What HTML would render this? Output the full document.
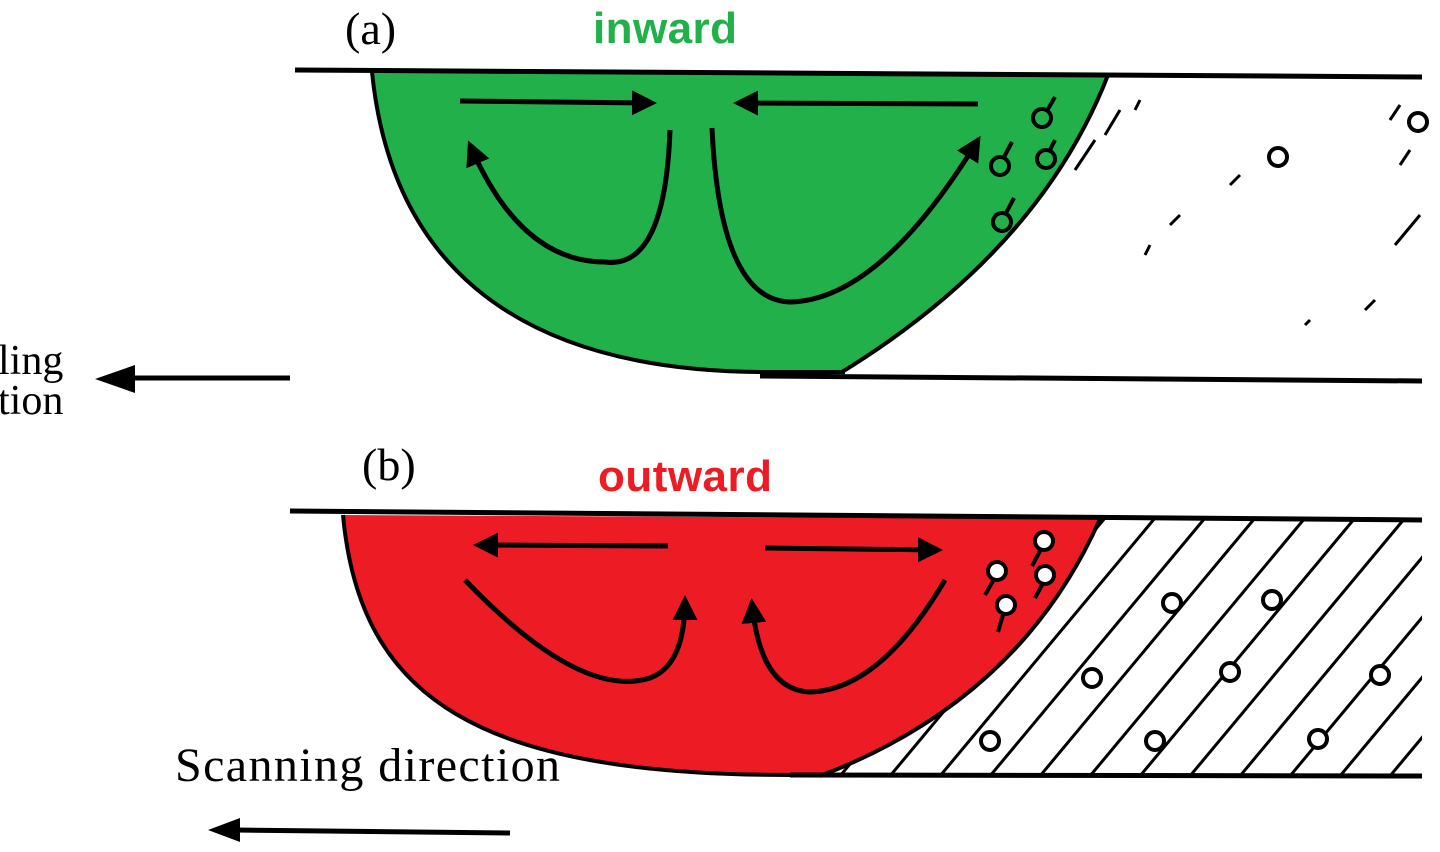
<!DOCTYPE html>
<html><head><meta charset="utf-8"><style>
body{margin:0;background:#fff;width:1440px;height:852px;overflow:hidden}
svg{display:block}
text{font-family:"Liberation Serif",serif}
</style></head><body>
<svg width="1440" height="852" viewBox="0 0 1440 852">
<defs>
<marker id="ah" viewBox="0 0 10 10" refX="8" refY="5" markerWidth="5" markerHeight="5" orient="auto"><path d="M0,0 L10,5 L0,10 Z" fill="#000"/></marker>
<clipPath id="hb"><path d="M1100,519 Q1020,700 820,776 L1422,776 L1422,519 Z"/></clipPath>
</defs>
<!-- (a) -->
<path d="M372,72 C390,250 500,370 760,372 L842,372 Q1040,250 1108,75 Z" fill="#22b04a"/>
<path d="M372,72 C390,250 500,370 760,372 L845,372" fill="none" stroke="#000" stroke-width="4"/>
<path d="M1108,75 Q1040,250 842,372" fill="none" stroke="#000" stroke-width="4"/>
<path d="M295,70 L1422,77" stroke="#000" stroke-width="5"/>
<path d="M760,376 L1422,381" stroke="#000" stroke-width="5"/>
<g stroke="#000" stroke-width="3" fill="none">
<path d="M1095,140 L1075,170 M1120,110 L1105,135 M1140,100 L1135,110 M1240,175 L1230,185 M1180,215 L1170,225 M1150,245 L1145,255 M1400,105 L1390,120 M1410,150 L1400,165 M1420,215 L1395,245 M1375,300 L1365,310 M1310,320 L1305,325"/>
</g>
<g stroke="#000" stroke-width="4" fill="none">
<circle cx="1278" cy="157" r="9"/><circle cx="1418" cy="122" r="9"/>
<circle cx="1042" cy="118" r="9"/><circle cx="1046" cy="159" r="9"/><circle cx="1000" cy="166" r="9"/><circle cx="1002" cy="222" r="9"/>
<path d="M1048,109 L1055,97 M1004,157 L1012,142 M1006,213 L1014,198 M1050,150 L1055,140"/>
</g>
<g stroke="#000" stroke-width="5" fill="none" marker-end="url(#ah)">
<path d="M460,101 L652,103"/>
<path d="M978,104 L738,103"/>
<path d="M670,130 Q665,270 605,262 Q520,262 470,145"/>
<path d="M712,128 Q720,300 790,302 Q880,300 978,140"/>
</g>
<path d="M290,378 L120,378" stroke="#000" stroke-width="5"/>
<path d="M95,379 L135,365 L135,393 Z" fill="#000"/>
<text x="345" y="44" font-size="46">(a)</text>
<text x="593" y="43" font-size="44" font-weight="bold" fill="#22b04a" style="font-family:'Liberation Sans',sans-serif" textLength="144">inward</text>
<text x="-2" y="374" font-size="42">ling</text>
<text x="-2" y="414" font-size="42">tion</text>
<!-- (b) -->
<path d="M343,515 C360,700 480,775 790,775 L820,776 Q1020,700 1100,519 Z" fill="#ed1c24"/>
<g clip-path="url(#hb)" stroke="#000" stroke-width="3">
<path d="M820,800 L1120,440 M870,800 L1170,440 M920,800 L1220,440 M970,800 L1270,440 M1020,800 L1320,440 M1070,800 L1370,440 M1120,800 L1420,440 M1170,800 L1470,440 M1220,800 L1520,440 M1270,800 L1570,440 M1320,800 L1620,440 M1370,800 L1670,440 M1420,800 L1720,440"/>
</g>
<g stroke="#000" stroke-width="4" fill="#fff">
<circle cx="990" cy="741" r="9"/><circle cx="1092" cy="678" r="9"/><circle cx="1155" cy="741" r="9"/><circle cx="1230" cy="672" r="9"/><circle cx="1172" cy="603" r="9"/><circle cx="1272" cy="600" r="9"/><circle cx="1318" cy="739" r="9"/><circle cx="1380" cy="675" r="9"/>
<circle cx="1044" cy="541" r="9"/><circle cx="1045" cy="575" r="9"/><circle cx="997" cy="571" r="9"/><circle cx="1006" cy="605" r="9"/>
<path d="M1040,551 L1032,566 M1042,585 L1035,598 M993,581 L985,595 M1003,615 L998,632" fill="none"/>
</g>
<path d="M343,515 C360,700 480,775 790,775 L830,775" fill="none" stroke="#000" stroke-width="4"/>
<path d="M1100,519 Q1020,700 820,776" fill="none" stroke="#000" stroke-width="4"/>
<path d="M290,511 L1422,520" stroke="#000" stroke-width="5"/>
<path d="M790,775 L1422,776" stroke="#000" stroke-width="5"/>
<g stroke="#000" stroke-width="5" fill="none" marker-end="url(#ah)">
<path d="M668,546 L478,545"/>
<path d="M765,548 L938,550"/>
<path d="M465,580 Q580,700 650,678 Q685,665 685,600"/>
<path d="M945,580 Q880,690 810,692 Q760,690 752,603"/>
</g>
<text x="362" y="480" font-size="46">(b)</text>
<text x="598" y="491" font-size="44" font-weight="bold" fill="#ed1c24" style="font-family:'Liberation Sans',sans-serif" textLength="174">outward</text>
<text x="175" y="781" font-size="48" textLength="385">Scanning direction</text>
<path d="M510,833 L235,830" stroke="#000" stroke-width="5"/>
<path d="M208,830 L240,818 L240,842 Z" fill="#000"/>
</svg>
</body></html>
